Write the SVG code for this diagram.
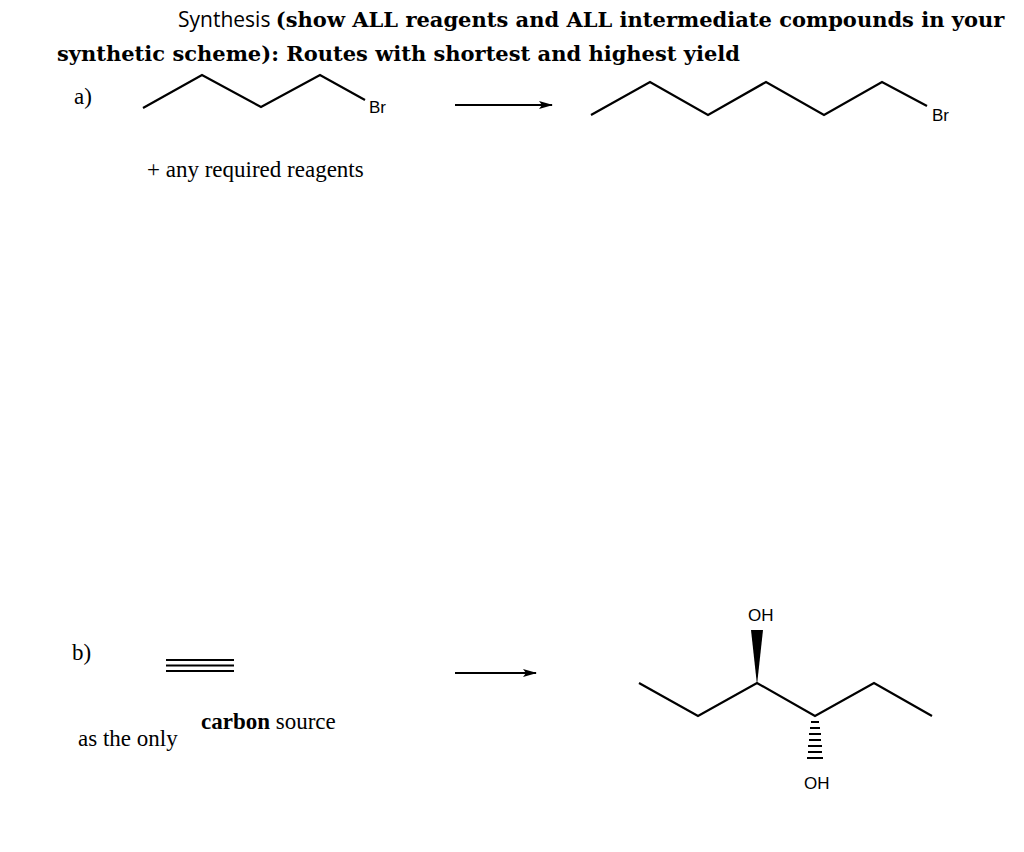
<svg xmlns="http://www.w3.org/2000/svg" width="1024" height="852" viewBox="0 0 1024 852">
<style>
.b{fill:none;stroke:#000;stroke-width:2.2;stroke-linejoin:miter}
.lab{font-family:"Liberation Sans",Arial,sans-serif;font-size:17px}
.t{font-family:"Liberation Serif","Times New Roman",serif;font-size:23px}
.h{font-family:"DejaVu Serif","Liberation Serif",serif;font-weight:bold;font-size:21px}
</style>
<defs><marker id="ah" markerWidth="14" markerHeight="8" refX="13" refY="4" orient="auto" markerUnits="userSpaceOnUse"><path d="M0,0 L14,4 L0,8 L3,4 Z" fill="#000"/></marker></defs>
<rect width="1024" height="852" fill="#fff"/>
<text x="178" y="27" font-family="Open Sans,sans-serif" font-size="21">Synthesis <tspan class="h" font-size="20">(show ALL reagents and ALL intermediate compounds in your</tspan></text>
<text x="57" y="61" class="h" font-size="20">synthetic scheme):  Routes with shortest and highest yield</text>
<text x="74" y="104" class="t">a)</text>
<text x="147" y="177" class="t">+ any required reagents</text>
<text x="72" y="660" class="t">b)</text>
<text x="78" y="746" class="t">as the only</text>
<text x="201" y="729" class="t"><tspan font-weight="bold">carbon</tspan> source</text>
<g id="bromobutane"><polyline class="b" points="143,108 202,75 261,107 320,75 365,100"/><text x="369" y="113" class="lab">Br</text></g>
<g id="bromohexane"><polyline class="b" points="591,115 650,82 708,115 766,82 824,115 882,82 927,106"/><text x="932" y="121" class="lab">Br</text></g>
<g id="ethyne"><path class="b" d="M166,660 H234 M166,665.5 H234 M166,671 H234" stroke-width="2"/></g>
<g id="diol"><polyline class="b" points="639,683 698,716 757,683 815,716 874,683 932,716"/>
<path d="M757,685 L751,630 L763,630 Z"/>
<path d="M811,722 h8 M810,728 h10 M809,734 h12 M809,740 h12 M808,746 h14 M808,752 h14 M807,758 h16" stroke="#000" stroke-width="2"/>
<text x="748" y="621" class="lab">OH</text><text x="804" y="789" class="lab">OH</text></g>
<g id="connectors"><line class="b" x1="455" y1="105" x2="552" y2="105" marker-end="url(#ah)"/><line class="b" x1="455" y1="673" x2="536" y2="673" marker-end="url(#ah)"/></g>
</svg>
